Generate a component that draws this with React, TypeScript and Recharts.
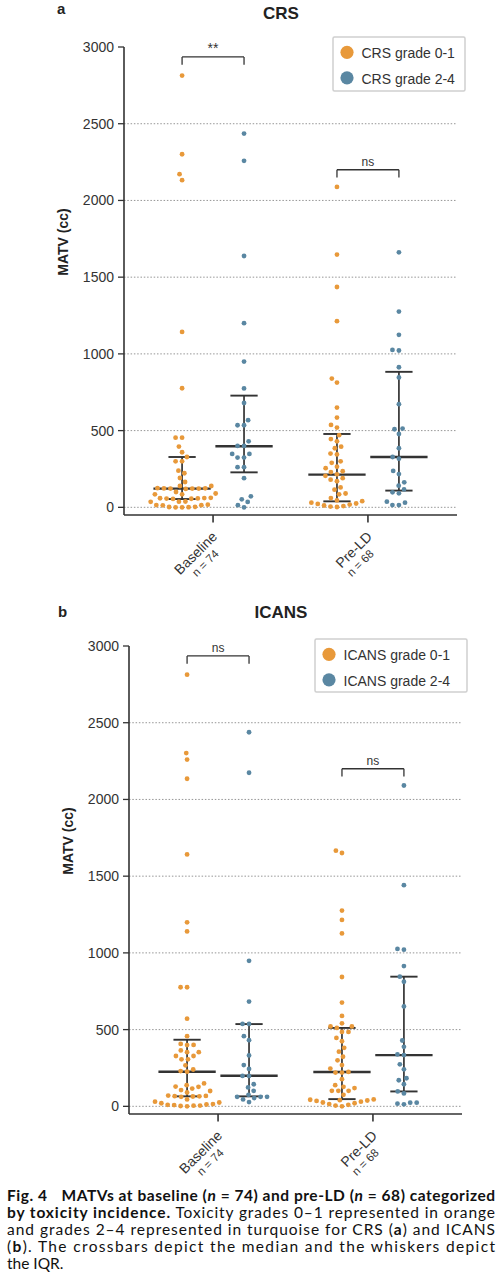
import React from "react";
import {
  ScatterChart,
  Scatter,
  XAxis,
  YAxis,
  ReferenceLine,
  ReferenceDot,
} from "recharts";

// MATV (cc) per patient
const timepoints = ["Baseline", "Pre-LD"];
const timepointCounts = ["n = 74", "n = 68"];
const yTicks = [0, 500, 1000, 1500, 2000, 2500, 3000];
const gridValues = [0, 500, 1000, 1500, 2000, 2500];

const crsLabels = ["CRS grade 0-1", "CRS grade 2-4"];
const crsBaselineLow = [
  2814, 2301, 2171, 2132, 1143, 776, 454, 454, 396, 359, 328, 300, 300, 239, 222, 191, 165,
  139, 139, 125, 124, 123, 122, 122, 122, 120, 100, 90, 85, 85, 62, 60, 59, 58, 57, 56, 55,
  38, 37, 36, 17, 15, 14, 13, 3, 2, 1, 0, 0,
];
const crsBaselineHigh = [
  2436, 2258, 1638, 1200, 950, 775, 680, 568, 535, 535, 430, 400, 400, 348, 348, 324, 324,
  262, 262, 190, 72, 52, 35, 14, 0,
];
const crsPreLdLow = [
  2088, 1647, 1436, 1213, 839, 813, 650, 585, 537, 520, 470, 445, 430, 395, 385, 350, 345,
  300, 290, 265, 255, 235, 230, 215, 205, 190, 180, 170, 130, 115, 90, 85, 60, 45, 40, 30,
  25, 22, 18, 12, 8, 5, 2,
];
const crsPreLdHigh = [
  1662, 1276, 1124, 1026, 1022, 913, 846, 672, 513, 509, 478, 385, 328, 317, 237, 217, 163,
  141, 117, 98, 91, 37, 30, 15, 15,
];
// order: baseline 0-1, baseline 2-4, pre-LD 0-1, pre-LD 2-4
const crsMedian = [122, 398, 213, 328];
const crsQ1 = [54, 228, 39, 109];
const crsQ3 = [328, 728, 478, 883];
const crsSig = ["**", "ns"];

const icansLabels = ["ICANS grade 0-1", "ICANS grade 2-4"];
const icansBaselineLow = [
  2813, 2302, 2260, 2135, 1642, 1199, 1140, 776, 776, 571, 457, 407, 400, 399, 364, 353, 353,
  328, 328, 306, 306, 267, 240, 230, 226, 149, 138, 129, 127, 116, 106, 100, 90, 70, 68, 66,
  65, 64, 62, 45, 30, 25, 20, 15, 12, 10, 8, 5, 4, 2, 0,
];
const icansBaselineHigh = [
  2438, 2174, 948, 683, 537, 537, 457, 431, 332, 269, 244, 198, 198, 144, 123, 101, 75, 62,
  62, 62, 54, 45, 28,
];
const icansPreLdLow = [
  1666, 1651, 1276, 1215, 1127, 843, 676, 589, 541, 521, 521, 511, 485, 485, 446, 424, 381,
  356, 323, 300, 269, 246, 224, 220, 220, 177, 138, 127, 119, 101, 101, 101, 75, 45, 43, 40,
  38, 35, 30, 25, 20, 15, 10, 5, 0,
];
const icansPreLdHigh = [
  2091, 1441, 1026, 1021, 914, 845, 812, 651, 429, 388, 338, 334, 274, 241, 183, 170, 144, 97,
  84, 24, 24, 17, 13,
];
const icansMedian = [225, 199, 224, 334];
const icansQ1 = [65, 65, 47, 97];
const icansQ3 = [434, 536, 511, 845];
const icansSig = ["ns", "ns"];

const bracketTops = [2935, 2200];

const ORANGE = "#E8993A";
const BLUE = "#5A87A2";
const INK = "#333";
const FONT = "'Liberation Sans', Arial, Helvetica, sans-serif";

const W = 498;
const H = 590;
const M = { top: 47, right: 41, bottom: 15, left: 64 };
const Y_AXIS_W = 60;
const X_AXIS_H = 60;
const X_DOMAIN: [number, number] = [-0.575, 1.575];
const Y_DOMAIN: [number, number] = [-50, 3000];
const PLOT_W = W - M.left - M.right - Y_AXIS_W;
const PLOT_H = H - M.top - M.bottom - X_AXIS_H;
const PX_PER_X = PLOT_W / (X_DOMAIN[1] - X_DOMAIN[0]);
const PX_PER_Y = PLOT_H / (Y_DOMAIN[1] - Y_DOMAIN[0]);
const GRADE_SHIFT = 0.2;
const DOT_SEP = 6.5;

// simple beeswarm: place each point (lowest first) as close to the centre as it can go
function swarm(values: number[], center: number) {
  const sorted = [...values].sort((a, b) => a - b);
  const placed: { x: number; y: number }[] = [];
  const out: { x: number; y: number }[] = [];
  for (const v of sorted) {
    const py = v * PX_PER_Y;
    const near = placed.filter((p) => Math.abs(p.y - py) < DOT_SEP);
    const cands = [0];
    for (const p of near) {
      const dx = Math.sqrt(DOT_SEP * DOT_SEP - (p.y - py) ** 2);
      cands.push(p.x - dx, p.x + dx);
    }
    cands.sort((a, b) => Math.abs(a) - Math.abs(b));
    let best = 0;
    for (const c of cands) {
      const ok = near.every((p) => (p.x - c) ** 2 + (p.y - py) ** 2 >= DOT_SEP * DOT_SEP - 0.01);
      if (ok) {
        best = c;
        break;
      }
    }
    placed.push({ x: best, y: py });
    out.push({ x: center + best / PX_PER_X, y: v });
  }
  return out;
}

const TimeTick = (props: any) => {
  const { x, y, payload } = props;
  const i = Math.round(payload.value);
  return (
    <g transform={`translate(${x + 5},${y + 13}) rotate(-45)`}>
      <text textAnchor="end" fontSize={14} fill={INK}>
        {timepoints[i]}
      </text>
      <text x={-27} y={13} textAnchor="middle" fontSize={11.5} fill={INK}>
        {timepointCounts[i]}
      </text>
    </g>
  );
};

const AxisTitle = () => (
  <text
    transform="translate(68,242) rotate(-90)"
    textAnchor="middle"
    fontSize={14}
    fontWeight="bold"
    fill="#222"
  >
    MATV (cc)
  </text>
);

type PanelProps = {
  groups: number[][];
  median: number[];
  q1: number[];
  q3: number[];
  sig: string[];
};

const Panel = ({ groups, median, q1, q3, sig }: PanelProps) => {
  const centers = groups.map((_, i) => Math.floor(i / 2) + (i % 2 === 0 ? -GRADE_SHIFT : GRADE_SHIFT));
  return (
    <ScatterChart width={W} height={H} margin={M}>
      {gridValues.map((v) => (
        <ReferenceLine key={"g" + v} y={v} stroke="#8a8a8a" strokeWidth={0.9} strokeDasharray="1.5 1.8" />
      ))}
      <XAxis
        type="number"
        dataKey="x"
        domain={X_DOMAIN}
        ticks={[0, 1]}
        interval={0}
        allowDataOverflow
        height={X_AXIS_H}
        tickSize={7.5}
        stroke={INK}
        strokeWidth={1.6}
        tickLine={{ stroke: INK, strokeWidth: 1.6 }}
        tick={<TimeTick />}
      />
      <YAxis
        type="number"
        dataKey="y"
        domain={Y_DOMAIN}
        ticks={yTicks}
        interval={0}
        allowDataOverflow
        width={Y_AXIS_W}
        tickSize={6}
        tickMargin={4}
        stroke={INK}
        strokeWidth={1.6}
        tickLine={{ stroke: INK, strokeWidth: 1.3 }}
        tick={{ fontSize: 14, fill: INK }}
        label={<AxisTitle />}
      />
      {groups.map((vals, i) => (
        <Scatter
          key={"s" + i}
          data={swarm(vals, centers[i])}
          isAnimationActive={false}
          shape={(p: any) => (
            <circle cx={p.cx} cy={p.cy} r={2.4} fill={i % 2 === 0 ? ORANGE : BLUE} />
          )}
        />
      ))}
      {centers.map((c, i) => (
        <React.Fragment key={"cb" + i}>
          <ReferenceLine
            segment={[{ x: c, y: q1[i] }, { x: c, y: q3[i] }]}
            stroke={INK}
            strokeWidth={1.7}
          />
          <ReferenceLine
            segment={[{ x: c - 0.088, y: q1[i] }, { x: c + 0.088, y: q1[i] }]}
            stroke={INK}
            strokeWidth={1.9}
          />
          <ReferenceLine
            segment={[{ x: c - 0.088, y: q3[i] }, { x: c + 0.088, y: q3[i] }]}
            stroke={INK}
            strokeWidth={1.9}
          />
          <ReferenceLine
            segment={[{ x: c - 0.185, y: median[i] }, { x: c + 0.185, y: median[i] }]}
            stroke={INK}
            strokeWidth={2.4}
          />
        </React.Fragment>
      ))}
      {sig.map((s, t) => {
        const x0 = t - GRADE_SHIFT;
        const x1 = t + GRADE_SHIFT;
        const top = bracketTops[t];
        return (
          <React.Fragment key={"b" + t}>
            <ReferenceLine segment={[{ x: x0, y: top }, { x: x1, y: top }]} stroke={INK} strokeWidth={1.3} />
            <ReferenceLine segment={[{ x: x0, y: top }, { x: x0, y: top - 50 }]} stroke={INK} strokeWidth={1.3} />
            <ReferenceLine segment={[{ x: x1, y: top }, { x: x1, y: top - 50 }]} stroke={INK} strokeWidth={1.3} />
            <ReferenceDot
              x={t}
              y={top}
              r={0}
              shape={(p: any) => (
                <text x={p.cx} y={p.cy - 4} textAnchor="middle" fontSize={s === "**" ? 14 : 12} fill={INK}>
                  {s}
                </text>
              )}
            />
          </React.Fragment>
        );
      })}
    </ScatterChart>
  );
};

const LegendBox = ({ x, y, w, h, labels }: { x: number; y: number; w: number; h: number; labels: string[] }) => (
  <g>
    <rect x={x} y={y} width={w} height={h} fill="#fff" stroke="#cfcfcf" strokeWidth={1.5} rx={1.5} />
    {labels.map((l, i) => (
      <g key={l}>
        <circle cx={x + 14} cy={y + 15.3 + i * 25.5} r={6.6} fill={i === 0 ? ORANGE : BLUE} />
        <text x={x + 28.5} y={y + 20.8 + i * 26} fontSize={14} fill={INK}>
          {l}
        </text>
      </g>
    ))}
  </g>
);

export default function App() {
  return (
    <div
      style={{
        position: "absolute",
        left: 0,
        top: 0,
        width: 498,
        height: 1280,
        background: "#fff",
        fontFamily: FONT,
      }}
    >
      <svg width={498} height={1280} style={{ position: "absolute", left: 0, top: 0 }}>
        <text x={57} y={13.5} fontSize={15} fontWeight="bold" fill="#222">a</text>
        <text x={281} y={18.5} fontSize={17} fontWeight="bold" textAnchor="middle" fill="#222">CRS</text>
        <text x={58} y={617} fontSize={15} fontWeight="bold" fill="#222">b</text>
        <text x={281} y={618} fontSize={17} fontWeight="bold" textAnchor="middle" fill="#222">ICANS</text>
      </svg>
      <div style={{ position: "absolute", left: 0, top: 0 }}>
        <Panel
          groups={[crsBaselineLow, crsBaselineHigh, crsPreLdLow, crsPreLdHigh]}
          median={crsMedian}
          q1={crsQ1}
          q3={crsQ3}
          sig={crsSig}
        />
      </div>
      <div style={{ position: "absolute", left: 5, top: 599 }}>
        <Panel
          groups={[icansBaselineLow, icansBaselineHigh, icansPreLdLow, icansPreLdHigh]}
          median={icansMedian}
          q1={icansQ1}
          q3={icansQ3}
          sig={icansSig}
        />
      </div>
      <svg width={498} height={1280} style={{ position: "absolute", left: 0, top: 0, pointerEvents: "none" }}>
        <LegendBox x={333} y={37} w={132} h={54} labels={crsLabels} />
        <LegendBox x={315} y={639} w={152} h={53} labels={icansLabels} />
        <g fontFamily="Lato, 'Open Sans', sans-serif" fontSize={15.5} fill="#111">
          <text x={7} y={1200.7} textLength={488} lengthAdjust="spacing">
            <tspan fontWeight="bold">Fig. 4</tspan>
            <tspan fontWeight="bold" dx={14}>{"MATVs at baseline ("}</tspan>
            <tspan fontWeight="bold" fontStyle="italic">n</tspan>
            <tspan fontWeight="bold">{" = 74) and pre-LD ("}</tspan>
            <tspan fontWeight="bold" fontStyle="italic">n</tspan>
            <tspan fontWeight="bold">{" = 68) categorized"}</tspan>
          </text>
          <text x={7} y={1217.8} textLength={488} lengthAdjust="spacing">
            <tspan fontWeight="bold">{"by toxicity incidence."}</tspan>
            <tspan>{" Toxicity grades 0\u20131 represented in orange"}</tspan>
          </text>
          <text x={7} y={1234.9} textLength={488} lengthAdjust="spacing">
            <tspan>{"and grades 2\u20134 represented in turquoise for CRS ("}</tspan>
            <tspan fontWeight="bold">a</tspan>
            <tspan>{") and ICANS"}</tspan>
          </text>
          <text x={7} y={1252} textLength={488} lengthAdjust="spacing">
            <tspan>{"("}</tspan>
            <tspan fontWeight="bold">b</tspan>
            <tspan>{"). The crossbars depict the median and the whiskers depict"}</tspan>
          </text>
          <text x={7} y={1269}>
            the IQR.
          </text>
        </g>
      </svg>
    </div>
  );
}
